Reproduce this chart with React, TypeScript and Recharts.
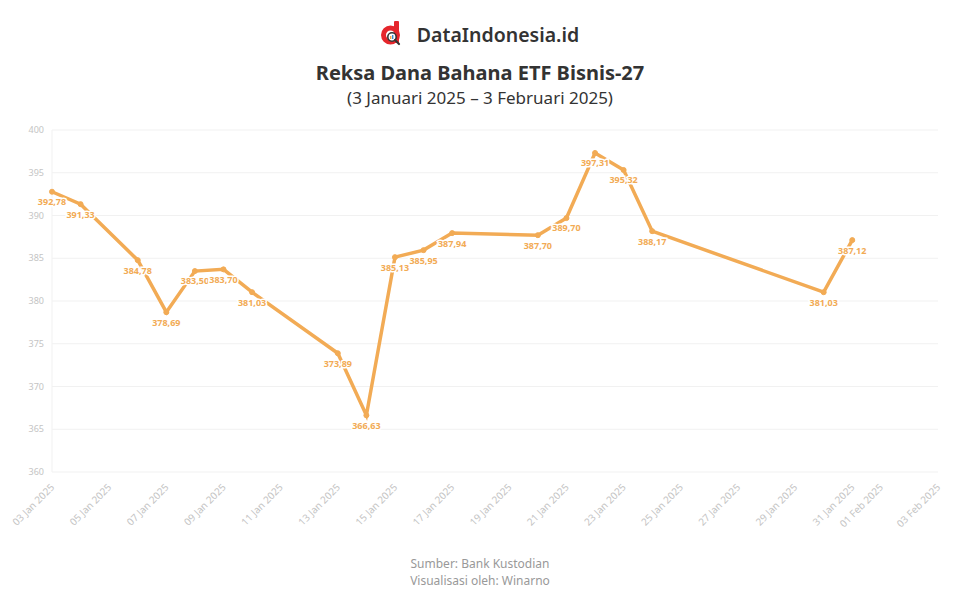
import { LineChart, Line, XAxis, YAxis, CartesianGrid, LabelList } from "recharts";

// trading dates and NAV values
const dates = [
  "2025-01-03", "2025-01-04", "2025-01-06", "2025-01-07", "2025-01-08",
  "2025-01-09", "2025-01-10", "2025-01-13", "2025-01-14", "2025-01-15",
  "2025-01-16", "2025-01-17", "2025-01-20", "2025-01-21", "2025-01-22",
  "2025-01-23", "2025-01-24", "2025-01-30", "2025-01-31",
];
const navValues = [
  392.78, 391.33, 384.78, 378.69, 383.5,
  383.7, 381.03, 373.89, 366.63, 385.13,
  385.95, 387.94, 387.7, 389.7, 397.31,
  395.32, 388.17, 381.03, 387.12,
];

const xTickDates = [
  "2025-01-03", "2025-01-05", "2025-01-07", "2025-01-09", "2025-01-11",
  "2025-01-13", "2025-01-15", "2025-01-17", "2025-01-19", "2025-01-21",
  "2025-01-23", "2025-01-25", "2025-01-27", "2025-01-29", "2025-01-31",
  "2025-02-01", "2025-02-03",
];
const xTickLabels = [
  "03 Jan 2025", "05 Jan 2025", "07 Jan 2025", "09 Jan 2025", "11 Jan 2025",
  "13 Jan 2025", "15 Jan 2025", "17 Jan 2025", "19 Jan 2025", "21 Jan 2025",
  "23 Jan 2025", "25 Jan 2025", "27 Jan 2025", "29 Jan 2025", "31 Jan 2025",
  "01 Feb 2025", "03 Feb 2025",
];
const yTicks = [360, 365, 370, 375, 380, 385, 390, 395, 400];

const DAY = 86400000;
const start = Date.parse(dates[0]);
const toDay = (d: string) => (Date.parse(d) - start) / DAY;

const data = dates.map((d, i) => ({ day: toDay(d), nav: navValues[i] }));
const xTicks = xTickDates.map(toDay);

const COLOR = "#f2ab55";
const FONT = "'Noto Sans', sans-serif";

const fmt = (v: number) => v.toFixed(2).replace(".", ",");

function DateTick(props: any) {
  const { x, y, payload } = props;
  const idx = xTicks.indexOf(payload.value);
  return (
    <g transform={`translate(${x + 3},${y + 8})`}>
      <text
        textAnchor="end"
        transform="rotate(-45)"
        fontSize={10}
        fill="#c4c4c4"
        fontFamily={FONT}
      >
        {xTickLabels[idx]}
      </text>
    </g>
  );
}

function Logo() {
  return (
    <svg width={26} height={28} viewBox="0 0 26 28">
      <rect x={13} y={1} width={5} height={22} rx={1} fill="#e5262c" />
      <circle cx={9.5} cy={15} r={7} fill="none" stroke="#e5262c" strokeWidth={5} />
      <circle cx={11} cy={17} r={4.2} fill="#fff" stroke="#333" strokeWidth={1.6} />
      <rect x={9} y={16} width={1.4} height={3} fill="#f0a448" />
      <rect x={11} y={15} width={1.4} height={4} fill="#3b8ed0" />
      <line x1={14} y1={20} x2={18} y2={24} stroke="#333" strokeWidth={2.2} strokeLinecap="round" />
    </svg>
  );
}

export default function App() {
  return (
    <div
      style={{
        position: "absolute",
        left: 0,
        top: 0,
        width: 960,
        height: 600,
        background: "#fff",
        fontFamily: FONT,
      }}
    >
      <div
        style={{
          position: "absolute",
          top: 20,
          left: 0,
          width: 960,
          display: "flex",
          justifyContent: "center",
          alignItems: "center",
          gap: 10,
        }}
      >
        <Logo />
        <span style={{ fontSize: 19.5, fontWeight: 600, color: "#333" }}>DataIndonesia.id</span>
      </div>
      <div
        style={{
          position: "absolute",
          top: 59,
          width: 960,
          textAlign: "center",
          fontSize: 20,
          fontWeight: 700,
          color: "#333",
        }}
      >
        Reksa Dana Bahana ETF Bisnis-27
      </div>
      <div
        style={{
          position: "absolute",
          top: 86,
          width: 960,
          textAlign: "center",
          fontSize: 17,
          color: "#333",
        }}
      >
        (3 Januari 2025 – 3 Februari 2025)
      </div>

      <div style={{ position: "absolute", left: 0, top: 0 }}>
        <LineChart
          width={960}
          height={600}
          data={data}
          margin={{ top: 130, right: 22, bottom: 68, left: 7 }}
        >
          <CartesianGrid vertical={false} stroke="#f1f1f1" />
          <XAxis
            dataKey="day"
            type="number"
            domain={[0, 31]}
            ticks={xTicks}
            interval={0}
            tick={<DateTick />}
            tickLine={false}
            axisLine={false}
            height={60}
          />
          <YAxis
            domain={[360, 400]}
            ticks={yTicks}
            width={45}
            tickLine={false}
            axisLine={{ stroke: "#f1f1f1" }}
            tick={{ fontSize: 9, fill: "#c4c4c4", fontFamily: FONT }}
          />
          <Line
            type="linear"
            dataKey="nav"
            stroke={COLOR}
            strokeWidth={3.5}
            dot={{ r: 2.5, fill: COLOR, stroke: COLOR, strokeWidth: 1 }}
            isAnimationActive={false}
          >
            <LabelList
              dataKey="nav"
              position="bottom"
              offset={7}
              formatter={(v: any) => fmt(Number(v))}
              style={{
                fontSize: 9,
                fontWeight: 700,
                fill: COLOR,
                fontFamily: FONT,
                stroke: "#fff",
                strokeWidth: 3,
                paintOrder: "stroke",
              }}
            />
          </Line>
        </LineChart>
      </div>

      <div
        style={{
          position: "absolute",
          top: 555,
          width: 960,
          textAlign: "center",
          fontSize: 12,
          lineHeight: "17px",
          color: "#999",
        }}
      >
        <div>Sumber: Bank Kustodian</div>
        <div>Visualisasi oleh: Winarno</div>
      </div>
    </div>
  );
}
